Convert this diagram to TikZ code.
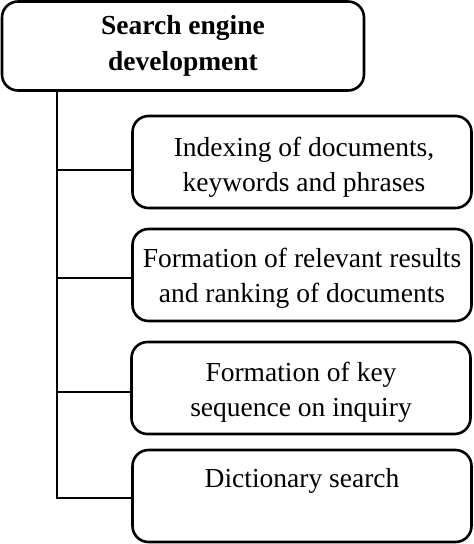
\documentclass[tikz,border=0pt]{standalone}
\usepackage{fontspec}
\setmainfont{Liberation Serif}
\begin{document}
\begin{tikzpicture}[x=1pt,y=-1pt,
  box/.style={draw,line width=2.6pt,rounded corners=16pt,minimum width=339pt,minimum height=92pt,inner sep=0pt},
  txt/.style={align=center,inner sep=0pt,font=\fontsize{27.5}{35}\selectfont},
  conn/.style={line width=2.6pt}]
\useasboundingbox (0,0) rectangle (474,544);
\node[draw,line width=2.6pt,rounded corners=16pt,minimum width=362pt,minimum height=89pt,inner sep=0pt,align=center,font=\bfseries\fontsize{27.5}{36}\selectfont] (top) at (183,46) {Search engine\\development};
\node[box] (b1) at (302,162) {};
\node[box] (b2) at (302,275) {};
\node[box] (b3) at (301,388) {};
\node[box] (b4) at (302,496) {};
\node[txt] (t1) at (304,167) {Indexing of documents,\\keywords and phrases};
\node[txt] (t2) at (302,278) {Formation of relevant results\\and ranking of documents};
\node[txt] (t3) at (301,392) {Formation of key\\sequence on inquiry};
\node[txt] (t4) at (302,481) {Dictionary search};
\coordinate (t0) at (57,91);
\coordinate (e4) at (57,498);
\draw[conn] (t0) -- (e4) -- (b4.west |- e4);
\draw[conn] (57,170) coordinate (c1) -- (b1.west |- c1);
\draw[conn] (57,278) coordinate (c2) -- (b2.west |- c2);
\draw[conn] (57,392) coordinate (c3) -- (b3.west |- c3);
\end{tikzpicture}
\end{document}
